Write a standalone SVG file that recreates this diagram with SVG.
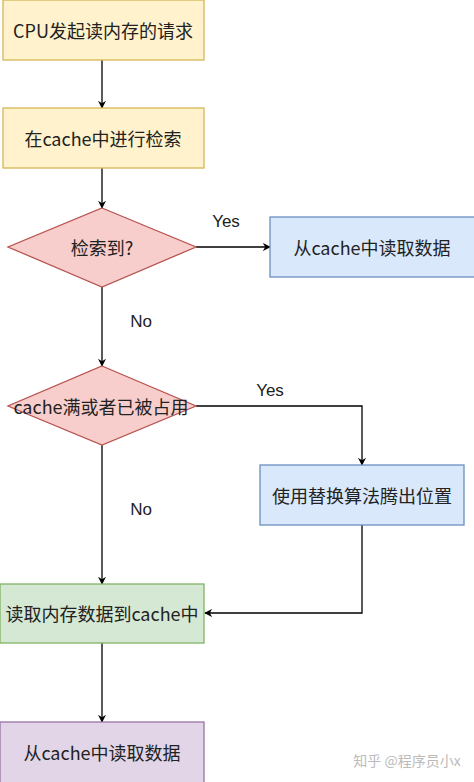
<svg xmlns="http://www.w3.org/2000/svg" width="474" height="782" viewBox="0 0 474 782">
<style>
text{font-family:"Noto Sans CJK SC","Liberation Sans",sans-serif;font-size:18px;fill:#222;text-anchor:middle;dominant-baseline:central}
.lbl{font-family:"Liberation Sans","Noto Sans CJK SC",sans-serif;font-size:17px}
.yel{fill:#fff2cc;stroke:#d6b656;stroke-width:1.3}
.blu{fill:#dae8fc;stroke:#6c8ebf;stroke-width:1.3}
.red{fill:#f8cecc;stroke:#b85450;stroke-width:1.3}
.grn{fill:#d5e8d4;stroke:#82b366;stroke-width:1.3}
.pur{fill:#e1d5e7;stroke:#9673a6;stroke-width:1.3}
.c{fill:none;stroke:#000;stroke-width:1.3;marker-end:url(#a)}
</style>
<defs>
<marker id="a" viewBox="0 0 10 10" refX="9" refY="5" markerWidth="8" markerHeight="8" markerUnits="userSpaceOnUse" orient="auto">
<path d="M0,0 L10,5 L0,10 L3,5 Z" fill="#000"/>
</marker>
</defs>
<rect width="474" height="782" fill="#fff"/>
<g id="connectors">
<path class="c" d="M102,60 V108"/>
<path class="c" d="M102,168 V208"/>
<path class="c" d="M196,247 H270"/>
<path class="c" d="M102,287 V366"/>
<path class="c" d="M196,406 H362 V465"/>
<path class="c" d="M102,445 V584"/>
<path class="c" d="M362,525 V613 H205"/>
<path class="c" d="M102,643 V722"/>
<text class="lbl" x="226" y="221">Yes</text>
<text class="lbl" x="141" y="321">No</text>
<text class="lbl" x="270" y="390">Yes</text>
<text class="lbl" x="141" y="509">No</text>
</g>
<g id="n1"><rect class="yel" x="3" y="0" width="201" height="60"/><text x="103" y="30">CPU发起读内存的请求</text></g>
<g id="n2"><rect class="yel" x="3" y="108" width="201" height="60"/><text x="103" y="138">在cache中进行检索</text></g>
<g id="n3"><polygon class="red" points="102,208 196,247 102,287 8,247"/><text x="102" y="247">检索到?</text></g>
<g id="n4"><rect class="blu" x="270" y="217" width="206" height="60"/><text x="372" y="247">从cache中读取数据</text></g>
<g id="n5"><polygon class="red" points="102,366 196,406 102,445 8,406"/><text x="101" y="406">cache满或者已被占用</text></g>
<g id="n6"><rect class="blu" x="260" y="465" width="204" height="60"/><text x="362" y="495">使用替换算法腾出位置</text></g>
<g id="n7"><rect class="grn" x="0" y="584" width="204" height="59"/><text x="102" y="613">读取内存数据到cache中</text></g>
<g id="n8"><rect class="pur" x="0" y="722" width="204" height="62"/><text x="102" y="752">从cache中读取数据</text></g>
<text x="407" y="760" style="font-size:14px;fill:#bbb">知乎 @程序员小x</text>
</svg>
